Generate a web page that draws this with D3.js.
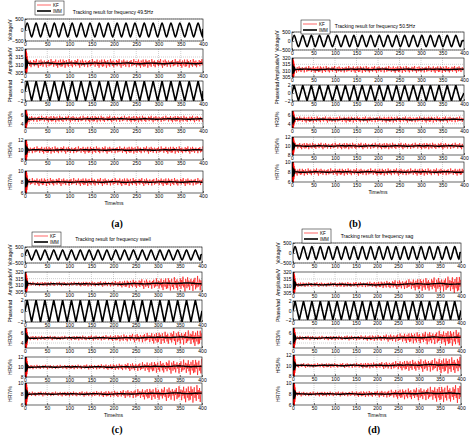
<!DOCTYPE html>
<html><head><meta charset="UTF-8">
<script src="https://d3js.org/d3.v7.min.js"></script>
<style>body{margin:0;background:#fff}svg text{font-family:Arial,"Liberation Sans",sans-serif}</style>
</head><body>
<svg id="c" width="474" height="437"></svg>
<script>
// extrema times of the voltage / phase waves for each case
const ext49 = [5,15,25,35,45,56,66,76,86,96,106,116,126,136,146,157,167,177,187,197,207,217,227,237,247,258,268,278,288,298,308,318,328,338,348,359,369,379,389,399];
const ext50 = [5,15,25,35,45,55,65,75,85,95,105,115,125,135,145,155,165,175,185,195,205,215,225,235,245,255,265,275,285,295,305,315,325,335,345,355,365,375,385,395];
const ext51 = [5,15,25,35,45,54,64,74,84,94,104,114,124,134,144,153,163,173,183,193,203,213,223,233,243,252,262,272,282,292,302,312,322,332,342,351,361,371,381,391];
// shared noise shapes
const kpNoise = [0.3,-0.6,0.8,-0.2,0.5,-0.9,0.1,0.7,-0.4,0.2,-0.7,0.9,-0.1,0.4,-0.5,0.6,-0.8,0.3,0.0,-0.3,0.7,-0.6,0.5,-0.2,0.9,-0.4,0.1,-0.9,0.6,0.2,-0.5,0.8,-0.3,0.4,-0.7,0.1,0.6,-0.2,0.3,-0.8,0.5,-0.1,0.7,-0.6,0.2,-0.4,0.9,-0.3,0.1,0.5,-0.7,0.4,-0.2,0.8,-0.5,0.3,-0.9,0.6,0.0,-0.4,0.8,-0.7];
const immNoise = [0.2,0.1,-0.1,-0.2,0.0,0.15,0.25,0.1,-0.15,-0.25,-0.1,0.05,0.2,0.1,-0.05,-0.2,-0.1,0.1,0.2,0.0];
const transient = [1,-1,0.9,-0.9,1,-1,0.9,-0.9,0.8,-0.8,0.7,-0.6,0.5,-0.4,0.3];
const envSteady = [1,1,1,1,1,1,1,1,1];
const envGrow = [0.6,0.6,0.6,0.7,0.8,1.2,1.6,2.0,2.3];   // at 0,50,...,400 ms
const immDrift = [0,0,0,0,0,0.1,0.2,0.3,0.2];

const panels = [
  {x:25, x2:203, ys:[[19,41],[49,73],[81,101],[110,128],[140,160],[171,193]], title:"Tracking result for frequency 49.5Hz", tx:113, ty:14, leg:[35,1], lab:"(a)", lx:117, ly:227, ext:ext49, env:envSteady, off:0},
  {x:292, x2:464, ys:[[32,50],[58,77],[85,101],[111,128],[137,155],[162,182]], title:"Tracking result for frequency 50.5Hz", tx:375, ty:28, leg:[301,20], lab:"(b)", lx:355, ly:227, ext:ext51, env:envSteady, off:13},
  {x:25, x2:202, ys:[[247,263],[272,292],[300,322],[328,348],[357,377],[383,405]], title:"Tracking result for frequency swell", tx:113, ty:241, leg:[32,232], lab:"(c)", lx:117, ly:433, ext:ext50, env:envGrow, off:27},
  {x:293, x2:461, ys:[[243,263],[272,293],[301,320],[328,348],[355,376],[383,405]], title:"Tracking result for frequency sag", tx:377, ty:238, leg:[302,229], lab:"(d)", lx:374, ly:433, ext:ext50, env:envGrow, off:41}
];
const subs = [
  {name:"Voltage/V", dom:[-500,500], ticks:[-500,0,500], kind:"volt"},
  {name:"Amplitude/V", dom:[305,320], ticks:[305,310,315,320], kind:"track", base:311, kp:3, imm:1, grid:[310,315]},
  {name:"Phase/rad", dom:[-2,2], ticks:[-2,0,2], kind:"phase"},
  {name:"HR3/%", dom:[3,7], ticks:[4,6], kind:"track", base:5, kp:0.8, imm:0.25, grid:[4,6]},
  {name:"HR5/%", dom:[8,12], ticks:[8,10,12], kind:"track", base:10, kp:0.8, imm:0.25, grid:[10]},
  {name:"HR7/%", dom:[6,10], ticks:[6,8,10], kind:"track", base:8, kp:0.8, imm:0.25, grid:[8]}
];
const xTicks = [0,50,100,150,200,250,300,350,400];
const svg = d3.select("#c");
const fs = 5;

panels.forEach(p => {
  const x = d3.scaleLinear().domain([0,400]).range([p.x, p.x2]);
  const envS = d3.scaleLinear().domain(d3.range(0,401,50)).range(p.env);
  const driftS = d3.scaleLinear().domain(d3.range(0,401,50)).range(p.env === envGrow ? immDrift : envSteady.map(()=>0));
  subs.forEach((s, si) => {
    const [y0, y1] = p.ys[si];
    const y = d3.scaleLinear().domain(s.dom).range([y1, y0]);
    const g = svg.append("g");
    xTicks.slice(1,-1).forEach(t => g.append("line").attr("x1",x(t)).attr("x2",x(t)).attr("y1",y0).attr("y2",y1).attr("stroke","#888").attr("stroke-width",0.4).attr("stroke-dasharray","1,1"));
    (s.grid || s.ticks).forEach(t => g.append("line").attr("x1",p.x).attr("x2",p.x2).attr("y1",y(t)).attr("y2",y(t)).attr("stroke","#888").attr("stroke-width",0.4).attr("stroke-dasharray","1,1"));
    const clipId = "cl"+p.lab[1]+si;
    svg.append("clipPath").attr("id",clipId).append("rect").attr("x",p.x).attr("y",y0).attr("width",p.x2-p.x).attr("height",y1-y0);
    const lg = g.append("g").attr("clip-path","url(#"+clipId+")");
    if (s.kind === "volt" || s.kind === "phase") {
      const amp = s.kind === "volt" ? 320 : 2;
      const pts = [[0,0]].concat(p.ext.map((t,i) => [t, (i%2===0?1:-1)*amp])).concat([[400, 0]]);
      if (s.kind === "volt") {
        const zp = [];
        pts.forEach((d,i)=>{ zp.push(d); if(i<pts.length-1 && i>0){ zp.push([(d[0]+pts[i+1][0])/2, 0]); } });
        const vl = d3.line().x(d=>x(d[0])).y(d=>y(d[1])).curve(d3.curveCardinal);
        lg.append("path").attr("d", vl(zp)).attr("fill","none").attr("stroke","#000").attr("stroke-width",1.6);
      } else {
        lg.append("path").attr("d", d3.line().x(d=>x(d[0])).y(d=>y(d[1]))(pts)).attr("fill","none").attr("stroke","#000").attr("stroke-width",1.6);
      }
    } else {
      const half = (s.dom[1]-s.dom[0])/2;
      const kpPts = [], immPts = [];
      transient.forEach((v,i) => { kpPts.push([i*0.4, s.base + v*half*1.2]); immPts.push([i*0.4, s.base + v*half*1.2]); });
      for (let i = 4; i <= 266; i++) {
        const t = i*1.5;
        kpPts.push([t, s.base + s.kp*envS(t)*kpNoise[(i+p.off+si*7)%kpNoise.length]]);
        immPts.push([t, s.base + s.imm*immNoise[Math.floor((i+p.off+si*5)/6)%immNoise.length] + driftS(t)*s.imm*2]);
      }
      lg.append("path").attr("d", d3.line().x(d=>x(d[0])).y(d=>y(d[1]))(kpPts)).attr("fill","none").attr("stroke","red").attr("stroke-width",0.6);
      lg.append("path").attr("d", d3.line().x(d=>x(d[0])).y(d=>y(d[1])).curve(d3.curveBasis)(immPts)).attr("fill","none").attr("stroke","#000").attr("stroke-width",1.4);
    }
    g.append("rect").attr("x",p.x).attr("y",y0).attr("width",p.x2-p.x).attr("height",y1-y0).attr("fill","none").attr("stroke","#000").attr("stroke-width",0.6);
    const ya = svg.append("g").attr("transform","translate("+p.x+",0)").call(d3.axisLeft(y).tickValues(s.ticks).tickFormat(d3.format("d")).tickSize(-2).tickPadding(1.5));
    const xa = svg.append("g").attr("transform","translate(0,"+y1+")").call(d3.axisBottom(x).tickValues(xTicks).tickSize(-2).tickPadding(1));
    [ya, xa].forEach(a => { a.select(".domain").remove(); a.selectAll("text").attr("font-size",fs).attr("fill","#000"); a.selectAll("line").attr("stroke","#000").attr("stroke-width",0.5); });
    svg.append("text").attr("transform","translate("+(p.x-13)+","+((y0+y1)/2)+") rotate(-90)").attr("text-anchor","middle").attr("font-size",fs).text(s.name);
  });
  const yb = p.ys[5][1];
  svg.append("text").attr("x",(p.x+p.x2)/2).attr("y",yb+12).attr("text-anchor","middle").attr("font-size",fs).text("Time/ms");
  svg.append("text").attr("x",p.tx).attr("y",p.ty).attr("text-anchor","middle").attr("font-size",fs).text(p.title);
  const [lx, ly] = p.leg;
  svg.append("rect").attr("x",lx).attr("y",ly).attr("width",29).attr("height",14).attr("fill","#fff").attr("stroke","#000").attr("stroke-width",0.5);
  svg.append("line").attr("x1",lx+2).attr("x2",lx+16).attr("y1",ly+4).attr("y2",ly+4).attr("stroke","red").attr("stroke-width",0.6);
  svg.append("line").attr("x1",lx+2).attr("x2",lx+16).attr("y1",ly+10).attr("y2",ly+10).attr("stroke","#000").attr("stroke-width",1.6);
  svg.append("text").attr("x",lx+18).attr("y",ly+5.5).attr("font-size",4.5).text("KF");
  svg.append("text").attr("x",lx+18).attr("y",ly+11.5).attr("font-size",4.5).text("IMM");
  svg.append("text").attr("x",p.lx).attr("y",p.ly).attr("text-anchor","middle").attr("font-size",10).style("font-family","'Liberation Serif',serif").attr("font-weight","bold").text(p.lab);
});
</script>
</body></html>
